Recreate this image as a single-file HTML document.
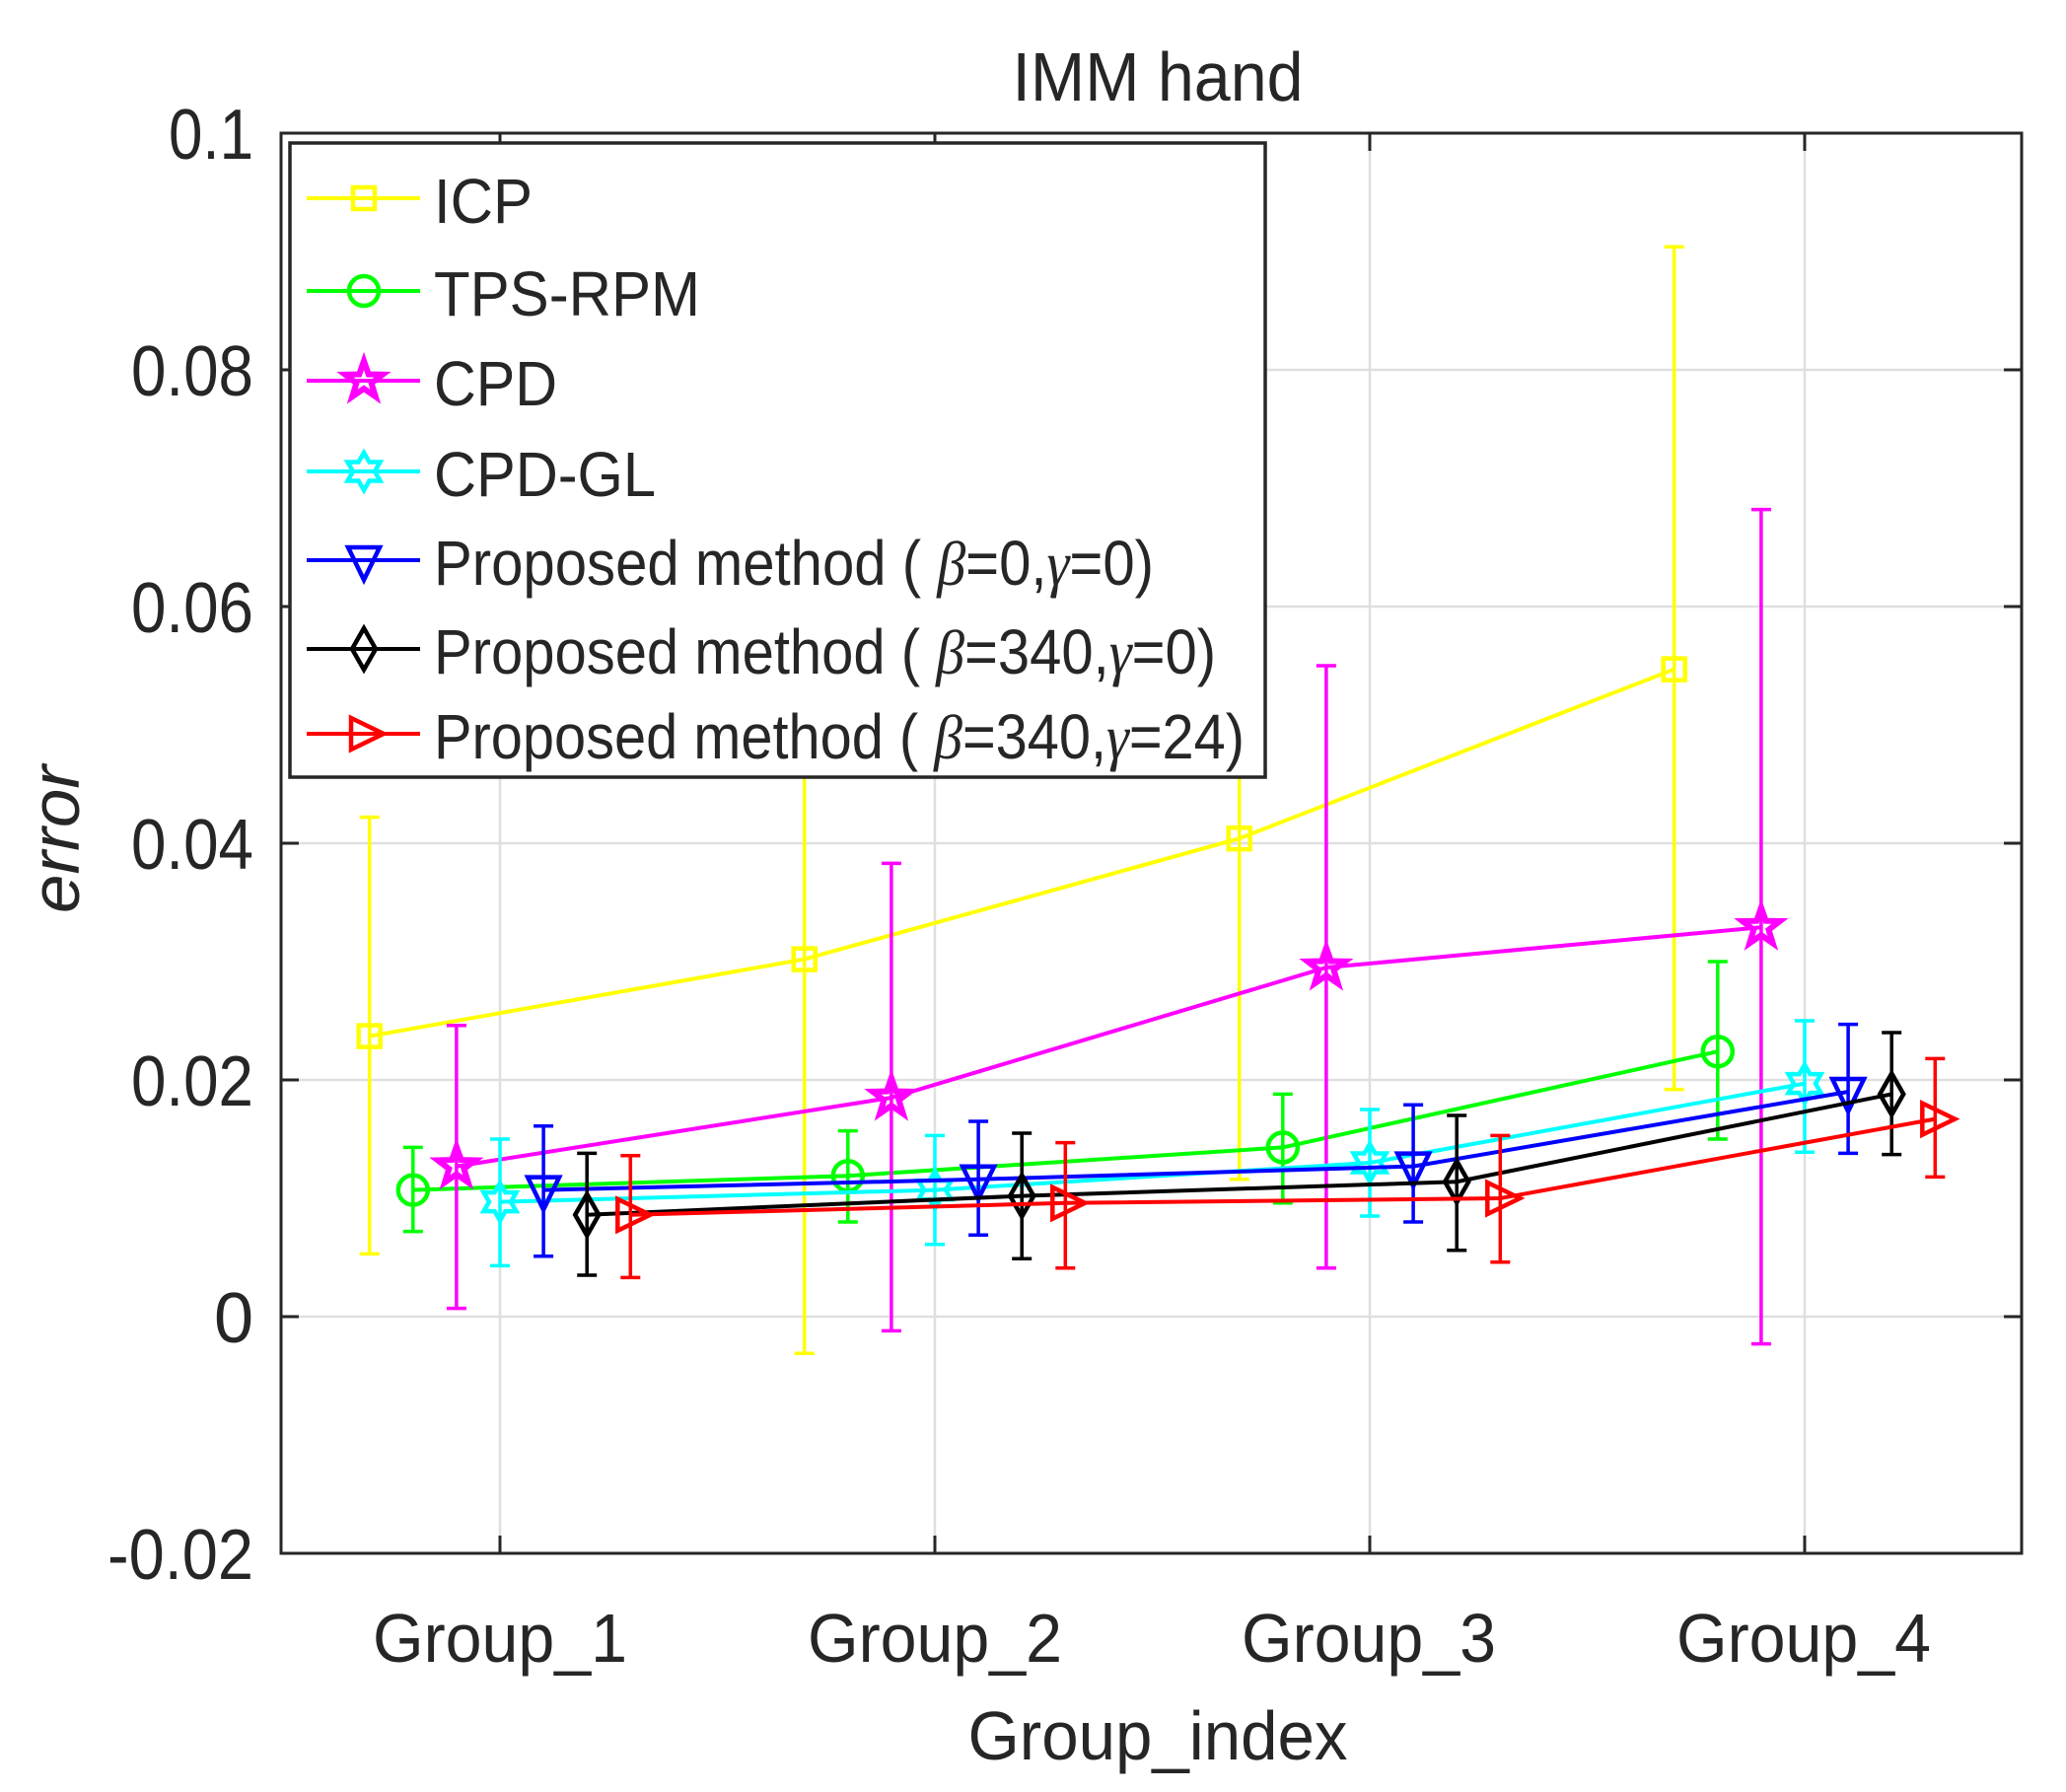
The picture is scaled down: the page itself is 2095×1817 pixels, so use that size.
<!DOCTYPE html>
<html><head><meta charset="utf-8"><style>
html,body{margin:0;padding:0;background:#fff;}
svg{display:block;}
text{font-family:"Liberation Sans",sans-serif;fill:#262626;}
</style></head><body>
<svg id="s" width="2095" height="1817" viewBox="0 0 2095 1817" xmlns="http://www.w3.org/2000/svg">
<rect width="2095" height="1817" fill="#fff"/>
<g id="grid" stroke="#dfdfdf" stroke-width="2.5"></g>
<g id="data"></g>
<g id="axes" fill="none" stroke="#262626" stroke-width="3"></g>
<text x="1174" y="102" font-size="70" text-anchor="middle" textLength="295" lengthAdjust="spacingAndGlyphs">IMM hand</text>
<text x="1174" y="1784" font-size="70" text-anchor="middle" textLength="385" lengthAdjust="spacingAndGlyphs">Group_index</text>
<text transform="translate(80,851) rotate(-90)" font-size="70" font-style="italic" text-anchor="middle" textLength="150" lengthAdjust="spacingAndGlyphs">error</text>
<g font-size="72" text-anchor="end">
<text x="257" y="161" textLength="86" lengthAdjust="spacingAndGlyphs">0.1</text>
<text x="257" y="401" textLength="124" lengthAdjust="spacingAndGlyphs">0.08</text>
<text x="257" y="641" textLength="124" lengthAdjust="spacingAndGlyphs">0.06</text>
<text x="257" y="881" textLength="124" lengthAdjust="spacingAndGlyphs">0.04</text>
<text x="257" y="1121" textLength="124" lengthAdjust="spacingAndGlyphs">0.02</text>
<text x="257" y="1361">0</text>
<text x="257" y="1601" textLength="148" lengthAdjust="spacingAndGlyphs">-0.02</text>
</g>
<g font-size="70" text-anchor="middle">
<text x="507" y="1685" textLength="258" lengthAdjust="spacingAndGlyphs">Group_1</text>
<text x="948" y="1685" textLength="258" lengthAdjust="spacingAndGlyphs">Group_2</text>
<text x="1388" y="1685" textLength="258" lengthAdjust="spacingAndGlyphs">Group_3</text>
<text x="1829" y="1685" textLength="258" lengthAdjust="spacingAndGlyphs">Group_4</text>
</g>
<rect x="294" y="145" width="989" height="643" fill="#fff" stroke="#262626" stroke-width="3.5"/>
<g id="leg"></g>
<g font-size="64" style="fill:#000">
<text x="440" y="226" textLength="100" lengthAdjust="spacingAndGlyphs">ICP</text>
<text x="440" y="320" textLength="270" lengthAdjust="spacingAndGlyphs">TPS-RPM</text>
<text x="440" y="411" textLength="125" lengthAdjust="spacingAndGlyphs">CPD</text>
<text x="440" y="503" textLength="225" lengthAdjust="spacingAndGlyphs">CPD-GL</text>
<text x="440" y="593" textLength="730" lengthAdjust="spacingAndGlyphs">Proposed method ( <tspan font-style="italic" font-family="Liberation Serif">β</tspan>=0,<tspan font-style="italic" font-family="Liberation Serif">γ</tspan>=0)</text>
<text x="440" y="683" textLength="793" lengthAdjust="spacingAndGlyphs">Proposed method ( <tspan font-style="italic" font-family="Liberation Serif">β</tspan>=340,<tspan font-style="italic" font-family="Liberation Serif">γ</tspan>=0)</text>
<text x="440" y="769" textLength="822" lengthAdjust="spacingAndGlyphs">Proposed method ( <tspan font-style="italic" font-family="Liberation Serif">β</tspan>=340,<tspan font-style="italic" font-family="Liberation Serif">γ</tspan>=24)</text>
</g>
</svg>
<script>
var NS="http://www.w3.org/2000/svg";
function el(p,t,a){var e=document.createElementNS(NS,t);for(var k in a)e.setAttribute(k,a[k]);p.appendChild(e);return e;}
var L=285,R=2050,T=135,B=1575;
function X(g){return 507+(g-1)*441;}
function Y(v){return T+(0.1-v)*12000;}
var grid=document.getElementById('grid'),axes=document.getElementById('axes'),data=document.getElementById('data'),leg=document.getElementById('leg');
for(var v=-0.02;v<=0.1001;v+=0.02){var y=Y(v);el(grid,'line',{x1:L,x2:R,y1:y,y2:y});el(axes,'line',{x1:L,x2:L+18,y1:y,y2:y});el(axes,'line',{x1:R,x2:R-18,y1:y,y2:y});}
for(var g=1;g<=4;g++){var x=X(g);el(grid,'line',{x1:x,x2:x,y1:T,y2:B});el(axes,'line',{x1:x,x2:x,y1:B,y2:B-18});el(axes,'line',{x1:x,x2:x,y1:T,y2:T+18});}
el(axes,'rect',{x:L,y:T,width:R-L,height:B-T});
var S=[
{c:'#ffff00',m:'sq',d:[[.0237,.0422,.0053],[.0302,.0635,-.0031],[.0404,.0692,.0116],[.0547,.0904,.0192]]},
{c:'#00ff00',m:'ci',d:[[.0107,.0143,.0072],[.0119,.0157,.0080],[.0143,.0188,.0096],[.0224,.0300,.0150]]},
{c:'#ff00ff',m:'p5',d:[[.0127,.0246,.0007],[.0185,.0383,-.0012],[.0295,.0550,.0041],[.0329,.0682,-.0023]]},
{c:'#00ffff',m:'h6',d:[[.0097,.0150,.0043],[.0107,.0153,.0061],[.0130,.0175,.0085],[.0197,.0250,.0139]]},
{c:'#0000ff',m:'vd',d:[[.0107,.0161,.0051],[.0116,.0165,.0069],[.0127,.0179,.0080],[.0190,.0247,.0138]]},
{c:'#000000',m:'di',d:[[.0086,.0138,.0035],[.0102,.0155,.0049],[.0114,.0170,.0056],[.0188,.0240,.0137]]},
{c:'#ff0000',m:'rt',d:[[.0086,.0136,.0033],[.0096,.0147,.0041],[.0100,.0153,.0046],[.0167,.0218,.0118]]}
];
function star(n,ro,ri,cx,cy,rot){var p=[];for(var i=0;i<2*n;i++){var r=i%2?ri:ro,a=rot+i*Math.PI/n;p.push((cx+r*Math.sin(a)).toFixed(1)+','+(cy-r*Math.cos(a)).toFixed(1));}return p.join(' ');}
function marker(p,m,x,y,c){var a={fill:'none',stroke:c,'stroke-width':4.5};
 if(m=='sq'){a.x=x-11;a.y=y-11;a.width=22;a.height=22;el(p,'rect',a);}
 else if(m=='ci'){a.cx=x;a.cy=y;a.r=15;el(p,'circle',a);}
 else if(m=='p5'){a.points=star(5,20,8,x,y,0);a['stroke-width']=6;el(p,'polygon',a);}
 else if(m=='h6'){a.points=star(6,19,11,x,y,0);el(p,'polygon',a);}
 else if(m=='vd'){a.points=(x-16)+','+(y-13)+' '+(x+16)+','+(y-13)+' '+x+','+(y+20);el(p,'polygon',a);}
 else if(m=='di'){a.points=x+','+(y-21)+' '+(x+12)+','+y+' '+x+','+(y+21)+' '+(x-12)+','+y;el(p,'polygon',a);}
 else if(m=='rt'){a.points=(x-13)+','+(y-16)+' '+(x+20)+','+y+' '+(x-13)+','+(y+16);el(p,'polygon',a);}
}
S.forEach(function(s,i){var off=(i-3)*0.1,pts=[];
 s.d.forEach(function(d,g){var x=X(g+1+off);pts.push(x+','+Y(d[0]));
  var yt=Y(d[1]),yb=Y(d[2]);
  el(data,'line',{x1:x,x2:x,y1:yt,y2:yb,stroke:s.c,'stroke-width':3.5});
  el(data,'line',{x1:x-10,x2:x+10,y1:yt,y2:yt,stroke:s.c,'stroke-width':3.5});
  el(data,'line',{x1:x-10,x2:x+10,y1:yb,y2:yb,stroke:s.c,'stroke-width':3.5});
 });
 el(data,'polyline',{points:pts.join(' '),fill:'none',stroke:s.c,'stroke-width':4});
 s.d.forEach(function(d,g){marker(data,s.m,X(g+1+off),Y(d[0]),s.c);});
 var ly=[201,295,386,478,568,658,744][i];
 el(leg,'line',{x1:311,x2:426,y1:ly,y2:ly,stroke:s.c,'stroke-width':4});
 marker(leg,s.m,369,ly,s.c);
});
</script>
</body></html>
